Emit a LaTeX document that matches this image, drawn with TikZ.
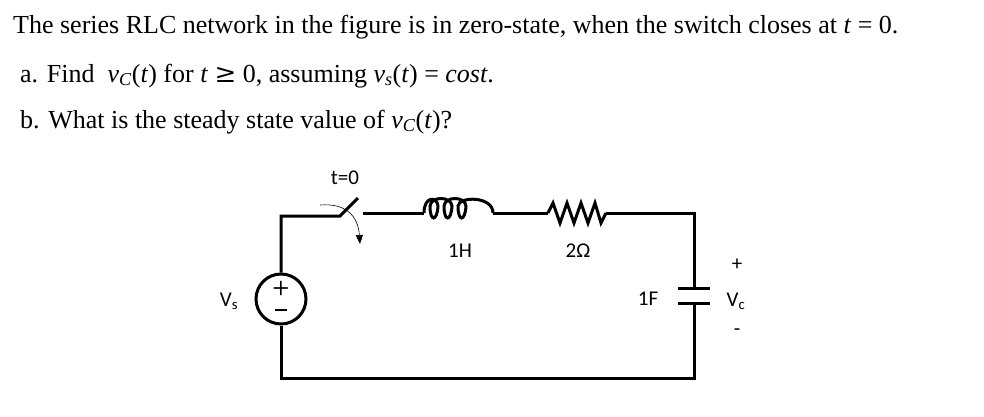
\documentclass[tikz,border=0pt]{standalone}
\usepackage{fontspec}
\setmainfont{Liberation Serif}
\newfontfamily\carfont{Carlito}
\newfontfamily\symfont{DejaVu Serif}
\usetikzlibrary{arrows.meta}
\newcommand{\vi}[1]{\textit{#1}}
\begin{document}
\begin{tikzpicture}[x=1pt,y=-1pt,
  wire/.style={line width=3pt},
  txt/.style={font=\fontsize{26}{30}\selectfont, anchor=base west, inner sep=0},
  lbl/.style={font=\carfont\fontsize{21}{24}\selectfont, inner sep=0}]
\useasboundingbox (0,0) rectangle (984,416);
% text
\node[txt] (l1) at (13,33) {The series RLC network in the figure is in zero-state, when the switch closes at \vi{t} = 0.};
\node[txt] (l2) at (20,82) {a. Find \ \vi{v}\textsubscript{\vi{C}}(\vi{t}) for \vi{t} {\symfont ≥} 0, assuming \vi{v}\textsubscript{\vi{s}}(\vi{t}) = \vi{cost}.};
\node[txt] (l3) at (20,128) {b. What is the steady state value of \vi{v}\textsubscript{\vi{C}}(\vi{t})?};
% coordinates
\coordinate (tl) at (281,216);
\coordinate (bl) at (281,378);
\coordinate (br) at (694,378);
\coordinate (tr) at (694,213);
\node[draw, circle, line width=3pt, minimum size=50pt, inner sep=0] (vs) at (281,299) {};
\node[font=\sffamily\bfseries\fontsize{20}{20}\selectfont, inner sep=0] (pl) at (281,288) {+};
\draw[line width=2.4pt] (275,310) -- (287,310);
\coordinate (s1) at (340,216);
\coordinate (s2) at (358,198);
\coordinate (s3) at (363,213);
\coordinate (i1) at (424,213);
\coordinate (i2) at (493,213);
\coordinate (r1) at (548,213);
\coordinate (r2) at (606,213);
\coordinate (c1) at (694,288);
\coordinate (c2) at (694,303);
\draw[wire] (vs.north) -- (tl) -- (s1) -- (s2);
\draw[wire] (s3) -- (i1);
\draw[wire] (vs.south) -- (bl) -- (br) -- (c2);
\draw[wire] (c1) -- (tr) -- (r2);
\draw[wire] (r1) -- (i2);
% inductor
\draw[wire] (i1) .. controls (424,196) and (437,196) .. (438,206)
  .. controls (437,222) and (430,222) .. (430,206)
  .. controls (431,196) and (451,196) .. (452,206)
  .. controls (451,222) and (444,222) .. (444,206)
  .. controls (445,196) and (465,196) .. (466,206)
  .. controls (465,222) and (458,222) .. (458,206)
  .. controls (459,196) and (493,196) .. (i2);
% resistor
\draw[wire, line join=miter] (r1) -- (553,203) -- (560,223) -- (567,203) -- (574,223) -- (581,203) -- (588,223) -- (595,203) -- (601,223) -- (r2);
% capacitor
\draw[wire] (678,288) -- (710,288) (678,303) -- (710,303);
% switch arrow
\draw[line width=0.6pt, -{Triangle[length=9pt,width=7pt]}] (320,205) .. controls (345,203) and (358,215) .. (360,244);
% labels
\node[lbl] (t0) at (345,178) {t=0};
\node[lbl] (lh) at (460,251) {1H};
\node[lbl] (lr) at (578,251) {2Ω};
\node[lbl] (lc) at (648,299) {1F};
\node[lbl] (lv) at (229,301) {V\textsubscript{s}};
\node[lbl] (cp) at (737,265) {+};
\node[lbl] (cv) at (736,301) {V\textsubscript{c}};
\node[lbl] (cm) at (737,332) {-};
\end{tikzpicture}
\end{document}
